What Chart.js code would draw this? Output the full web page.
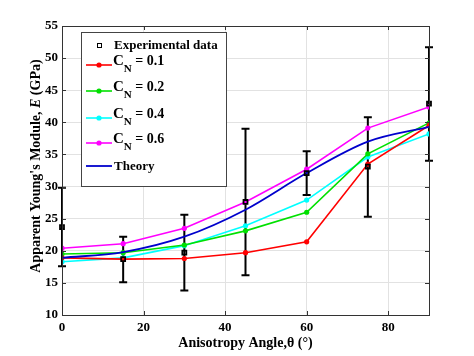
<!DOCTYPE html>
<html><head><meta charset="utf-8">
<script src="https://cdn.jsdelivr.net/npm/chart.js@4/dist/chart.umd.min.js"></script>
<style>html,body{margin:0;padding:0;background:#fff}#wrap{width:474px;height:356px}</style>
</head><body><div id="wrap"><canvas id="c" width="474" height="356"></canvas></div>
<script>
const angles = [0, 15, 30, 45, 60, 75, 90];
const cn01 = [18.9, 18.7, 18.8, 19.7, 21.4, 33.5, 39.5];
const cn02 = [19.5, 19.7, 20.9, 23.1, 26.0, 35.1, 39.9];
const cn04 = [18.3, 18.9, 20.8, 23.9, 27.9, 34.6, 38.2];
const cn06 = [20.4, 21.1, 23.5, 27.6, 32.7, 39.1, 42.4];
const theory = [18.9, 19.8, 22.2, 26.4, 32.1, 37.0, 39.3];
const expMean = [23.7, 18.7, 19.7, 27.6, 32.1, 33.1, 42.9];
const expLow = [17.6, 15.1, 13.8, 16.2, 28.7, 25.3, 34.0];
const expHigh = [29.8, 22.2, 25.6, 39.0, 35.5, 40.8, 51.7];
const xTicks = [0, 20, 40, 60, 80];
const yMin = 10, yMax = 55;

const FONT = '"Liberation Serif","Times New Roman",serif';
const pts = arr => angles.map((a, i) => ({x: a, y: arr[i]}));
const series = [
  {label: 'C_N = 0.1', sub: '0.1', data: cn01, color: '#ff0000'},
  {label: 'C_N = 0.2', sub: '0.2', data: cn02, color: '#00e000'},
  {label: 'C_N = 0.4', sub: '0.4', data: cn04, color: '#00ffff'},
  {label: 'C_N = 0.6', sub: '0.6', data: cn06, color: '#ff00ff'}
];

const datasets = [];
datasets.push({label: 'Experimental data', data: pts(expMean), showLine: false, clip: false,
  pointRadius: 2.8, pointStyle: 'rect', backgroundColor: 'rgba(0,0,0,0)', borderColor: '#000', pointBorderWidth: 1.8, order: 0});
series.forEach(s => datasets.push({
  label: s.label, data: pts(s.data), borderColor: s.color, backgroundColor: s.color,
  borderWidth: 1.6, pointRadius: 2.6, pointBorderWidth: 0, tension: 0, order: 2
}));
datasets.push({label: 'Theory', data: pts(theory), borderColor: '#0000cc', borderWidth: 1.8,
  pointRadius: 0, cubicInterpolationMode: 'monotone', order: 1});

const deco = {
  id: 'deco',
  beforeDatasetsDraw(chart) {
    const {ctx, scales: {x, y}} = chart;
    ctx.save();
    ctx.strokeStyle = '#000'; ctx.lineWidth = 2;
    angles.forEach((a, i) => {
      const px = x.getPixelForValue(a);
      const yl = y.getPixelForValue(expLow[i]), yh = y.getPixelForValue(expHigh[i]);
      ctx.beginPath();
      ctx.moveTo(px, yl); ctx.lineTo(px, yh);
      ctx.moveTo(px - 4, yl); ctx.lineTo(px + 4, yl);
      ctx.moveTo(px - 4, yh); ctx.lineTo(px + 4, yh);
      ctx.stroke();
    });
    ctx.restore();
  },
  afterDatasetsDraw(chart) {
    const {ctx, chartArea: ca, scales: {x, y}} = chart;
    ctx.save();
    ctx.strokeStyle = '#333'; ctx.lineWidth = 1;
    ctx.strokeRect(Math.round(ca.left) + 0.5, Math.round(ca.top) + 0.5, Math.round(ca.width), Math.round(ca.height));
    ctx.beginPath();
    xTicks.forEach(v => { const px = Math.round(x.getPixelForValue(v)) + 0.5;
      ctx.moveTo(px, ca.bottom); ctx.lineTo(px, ca.bottom - 4); ctx.moveTo(px, ca.top); ctx.lineTo(px, ca.top + 4); });
    for (let v = yMin; v <= yMax; v += 5) { const py = Math.round(y.getPixelForValue(v)) + 0.5;
      ctx.moveTo(ca.left, py); ctx.lineTo(ca.left + 4, py); ctx.moveTo(ca.right, py); ctx.lineTo(ca.right - 4, py); }
    ctx.stroke();
    // legend
    const lx = 81, ly = 32, lw = 145, lh = 154;
    ctx.fillStyle = '#fff'; ctx.fillRect(lx, ly, lw, lh);
    ctx.strokeStyle = '#444'; ctx.strokeRect(lx + 0.5, ly + 0.5, lw, lh);
    ctx.textBaseline = 'middle'; ctx.textAlign = 'left';
    ctx.font = 'bold 13px ' + FONT; ctx.fillStyle = '#000';
    ctx.strokeStyle = '#000'; ctx.lineWidth = 1;
    ctx.strokeRect(97.5, 43.5, 4, 4);
    ctx.fillText('Experimental data', 114, 46);
    const rows = [65, 91, 118, 143];
    series.forEach((s, i) => {
      const ry = rows[i];
      ctx.strokeStyle = s.color; ctx.lineWidth = 1.6;
      ctx.beginPath(); ctx.moveTo(86, ry); ctx.lineTo(112, ry); ctx.stroke();
      ctx.fillStyle = s.color; ctx.beginPath(); ctx.arc(99, ry, 2.6, 0, Math.PI * 2); ctx.fill();
      ctx.fillStyle = '#000';
      ctx.font = 'bold 15px ' + FONT;
      ctx.fillText('C', 113, ry - 4);
      const cw = ctx.measureText('C').width;
      ctx.font = 'bold 11px ' + FONT;
      ctx.fillText('N', 113 + cw, ry + 4);
      const nw = ctx.measureText('N').width;
      ctx.font = 'bold 14px ' + FONT;
      ctx.fillText(' = ' + s.sub, 113 + cw + nw, ry - 4);
    });
    ctx.strokeStyle = '#0000cc'; ctx.lineWidth = 1.8;
    ctx.beginPath(); ctx.moveTo(86, 166); ctx.lineTo(112, 166); ctx.stroke();
    ctx.fillStyle = '#000'; ctx.font = 'bold 13px ' + FONT;
    ctx.fillText('Theory', 114, 167);
    // y title
    ctx.save();
    ctx.translate(36, 166);
    ctx.rotate(-Math.PI / 2);
    const p1 = "Apparent Young's Module, ", p2 = 'E', p3 = ' (GPa)';
    const F = '14px ' + FONT;
    ctx.font = 'bold ' + F; const w1 = ctx.measureText(p1).width, w3 = ctx.measureText(p3).width;
    ctx.font = 'bold italic ' + F; const w2 = ctx.measureText(p2).width;
    let sx = -(w1 + w2 + w3) / 2;
    ctx.font = 'bold ' + F; ctx.fillText(p1, sx, 0); sx += w1;
    ctx.font = 'bold italic ' + F; ctx.fillText(p2, sx, 0); sx += w2;
    ctx.font = 'bold ' + F; ctx.fillText(p3, sx, 0);
    ctx.restore();
    ctx.restore();
  }
};

new Chart(document.getElementById('c'), {
  type: 'line',
  data: {datasets},
  options: {
    responsive: false, animation: false,
    layout: {padding: {left: 0, top: 26, right: 45, bottom: 0}},
    plugins: {legend: {display: false}, tooltip: {enabled: false}},
    scales: {
      x: {type: 'linear', min: 0, max: 90,
        afterBuildTicks: ax => { ax.ticks = xTicks.map(v => ({value: v})); },
        afterFit: ax => { ax.height = 41; },
        grid: {color: '#e2e2e2', drawTicks: false}, border: {display: false},
        ticks: {color: '#000', font: {family: FONT, size: 13, weight: 'bold'}, padding: 5},
        title: {display: true, text: 'Anisotropy Angle,θ (°)', color: '#000', font: {family: FONT, size: 14, weight: 'bold'}, padding: {top: 2}}
      },
      y: {min: yMin, max: yMax,
        afterFit: ax => { ax.width = 62; },
        grid: {color: '#e2e2e2', drawTicks: false}, border: {display: false},
        ticks: {stepSize: 5, color: '#000', font: {family: FONT, size: 13, weight: 'bold'}, padding: 4}
      }
    }
  },
  plugins: [deco]
});
</script></body></html>
